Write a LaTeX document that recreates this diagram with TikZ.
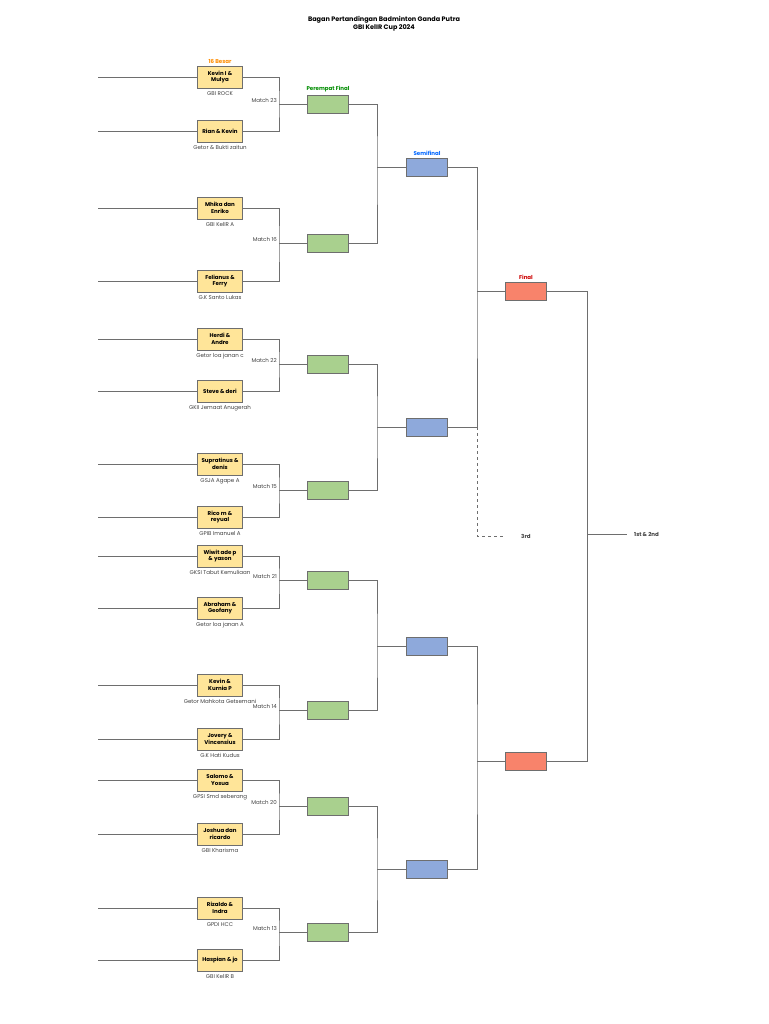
\documentclass[tikz,border=0pt]{standalone}
\usepackage{fontspec}
\setmainfont{Poppins}
\usetikzlibrary{positioning}
\definecolor{playercolor}{RGB}{255,229,153}
\definecolor{qfcolor}{RGB}{169,208,142}
\definecolor{sfcolor}{RGB}{142,169,219}
\definecolor{finalcolor}{RGB}{248,131,107}
\definecolor{linecolor}{RGB}{110,110,110}
\tikzstyle{player} = [draw=linecolor, fill=playercolor, thick, minimum width=45pt, minimum height=22pt, inner sep=0, align=center, font=\fontsize{5.5}{6.5}\selectfont\bfseries]
\tikzstyle{slot} = [draw=linecolor, thick, minimum width=41pt, minimum height=18pt, inner sep=0]
\tikzstyle{club} = [font=\fontsize{5.5}{6}\selectfont, text=black!75, inner sep=0]
\tikzstyle{stage} = [font=\fontsize{5.5}{6}\selectfont\bfseries, inner sep=0]
\tikzstyle{wire} = [draw=linecolor, thick]

\begin{document}
\begin{tikzpicture}[x=1pt, y=-1pt]
	\useasboundingbox (0,0) rectangle (768,1024);
	
	\node[font=\fontsize{6.5}{7.5}\selectfont\bfseries, align=center] (title) at (384,24) {Bagan Pertandingan Badminton Ganda Putra\\GBI KelIR Cup 2024};
	
	% 16 besar
	\foreach \y/\name/\clubname [count=\i] in {
		77/{Kevin I \&\\Mulya}/GBI ROCK,
		131/{Rian \& Kevin}/Getor \& Bukti zaitun,
		208/{Mhika dan\\Enriko}/GBI KelIR A,
		281/{Felianus \&\\Ferry}/G.K Santo Lukas,
		339/{Herdi \&\\Andre}/Getor loa janan c,
		391/{Steve \& deri}/GKII Jemaat Anugerah,
		464/{Supratinus \&\\denis}/GSJA Agape A,
		517/{Rico m \&\\reyual}/GPIB Imanuel A,
		556/{Wiwit ade p\\\& yason}/GKSI Tabut Kemuliaan,
		608/{Abraham \&\\Geofany}/Getor loa janan A,
		685/{Kevin \&\\Kurnia P}/Getor Mahkota Getsemani,
		739/{Jovery \&\\Vincensius}/G.K Hati Kudus,
		780/{Salomo \&\\Yosua}/GPSI Smd seberang,
		834/{Joshua dan\\ricardo}/GBI Kharisma,
		908/{Rizaldo \&\\Indra}/GPDI HCC,
		960/{Haspian \& jo}/GBI KelIR B}{
		\node[player] (p\i) at (220,\y) {\name};
		\node[club, below=3pt of p\i] (c\i) {\clubname};
		\coordinate (l\i) at (98,\y);
		\draw[wire] (l\i) -- (p\i);
	}
	\node[stage, text=orange!90!yellow, above=2pt of p1] (s16) {16 Besar};
	
	% perempat final
	\foreach \y/\match [count=\i] in {104/23, 243/16, 364/22, 490/15, 580/21, 710/14, 806/20, 932/13}{
		\node[slot, fill=qfcolor] (q\i) at (328,\y) {};
		\pgfmathtruncatemacro{\a}{2*\i-1}
		\pgfmathtruncatemacro{\b}{2*\i}
		\draw[wire] (p\a.east) -| (279,\y) |- (p\b.east);
		\draw[wire] (279,\y) -- (q\i.west);
		\node[club, anchor=east] at (277,\y-4) {Match \match};
	}
	\node[stage, text=green!55!black, above=2pt of q1] (sqf) {Perempat Final};
	
	% semifinal
	\foreach \y [count=\i] in {167, 427, 646, 869}{
		\node[slot, fill=sfcolor] (s\i) at (427,\y) {};
		\pgfmathtruncatemacro{\a}{2*\i-1}
		\pgfmathtruncatemacro{\b}{2*\i}
		\draw[wire] (q\a.east) -| (377,\y) |- (q\b.east);
		\draw[wire] (377,\y) -- (s\i.west);
	}
	\node[stage, text=blue!60!cyan, above=2pt of s1] (ssf) {Semifinal};
	
	% final
	\foreach \y [count=\i] in {291, 761}{
		\node[slot, fill=finalcolor] (f\i) at (526,\y) {};
		\pgfmathtruncatemacro{\a}{2*\i-1}
		\pgfmathtruncatemacro{\b}{2*\i}
		\draw[wire] (s\a.east) -| (477,\y) |- (s\b.east);
		\draw[wire] (477,\y) -- (f\i.west);
	}
	\node[stage, text=red!80!black, above=2pt of f1] (sf) {Final};
	
	\draw[wire] (f1.east) -| (587,534) |- (f2.east);
	\coordinate (champ) at (627,534);
	\draw[wire] (587,534) -- (champ);
	\node[club, font=\fontsize{5.5}{6}\selectfont\bfseries, right=7pt of champ] (first) {1st \& 2nd};
	
	\coordinate (third) at (505,536);
	\draw[linecolor, dashed, thin] (477,427) -- (477,536) -- (third);
	\node[club, font=\fontsize{5.5}{6}\selectfont\bfseries, right=16pt of third] (thirdlabel) {3rd};
	
\end{tikzpicture}
\end{document}
